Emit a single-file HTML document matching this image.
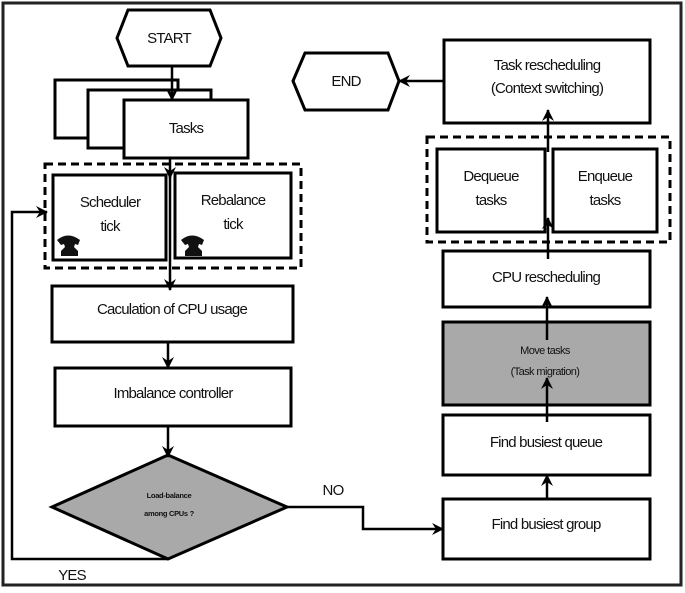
<!DOCTYPE html>
<html><head><style>
html,body{margin:0;padding:0;background:#fff;}
svg text{font-family:"Liberation Sans",sans-serif;fill:#111;}
</style></head><body>
<svg width="685" height="588" viewBox="0 0 685 588" xmlns="http://www.w3.org/2000/svg">
<defs>
<marker id="a" markerWidth="12" markerHeight="12" refX="11" refY="6" orient="auto" markerUnits="userSpaceOnUse">
<path d="M0,0 L12,6 L0,12 L4,6 Z" fill="#000"/>
</marker>
</defs>
<rect x="3" y="3" width="678" height="582" fill="none" stroke="#222" stroke-width="3"/>
<g stroke="#000" stroke-width="3" fill="#fff">
<polygon points="117,38 128,10 210,10 221,38 210,66 128,66"/>
<rect x="55" y="80" width="123" height="58"/>
<rect x="88" y="90" width="123" height="58"/>
<rect x="124" y="100" width="124" height="58"/>
<rect x="45" y="164" width="256" height="104" fill="none" stroke-dasharray="8,5"/>
<rect x="53" y="175" width="113" height="85"/>
<rect x="175" y="173" width="116" height="85"/>
<rect x="52" y="286" width="241" height="56"/>
<rect x="55" y="368" width="236" height="58"/>
<polygon points="52,507 168,455 287,507 168,559" fill="#a9a9a9"/>
<polygon points="293,81 305,53 388,53 399,81 388,110 305,110"/>
<rect x="444" y="40" width="206" height="83"/>
<rect x="427" y="137" width="243" height="105" fill="none" stroke-dasharray="8,5"/>
<rect x="437" y="149" width="108" height="83"/>
<rect x="553" y="149" width="104" height="83"/>
<rect x="443" y="251" width="207" height="56"/>
<rect x="443" y="322" width="207" height="83" fill="#a9a9a9"/>
<rect x="443" y="415" width="207" height="60"/>
<rect x="443" y="499" width="207" height="60"/>
</g>
<g stroke="#000" stroke-width="2.5" fill="none">
<line x1="172" y1="66" x2="172" y2="100" marker-end="url(#a)"/>
<line x1="170" y1="158" x2="170" y2="178" marker-end="url(#a)"/>
<line x1="170" y1="175" x2="170" y2="290" marker-end="url(#a)"/>
<line x1="168" y1="342" x2="168" y2="368" marker-end="url(#a)"/>
<line x1="168" y1="426" x2="168" y2="457" marker-end="url(#a)"/>
<polyline points="168,559 12,559 12,212 47,212" marker-end="url(#a)"/>
<polyline points="287,507 363,507 363,529 443,529" marker-end="url(#a)"/>
<line x1="547" y1="499" x2="547" y2="475" marker-end="url(#a)"/>
<line x1="547" y1="422" x2="547" y2="378" marker-end="url(#a)"/>
<line x1="547" y1="340" x2="547" y2="297" marker-end="url(#a)"/>
<line x1="548" y1="259" x2="548" y2="218" marker-end="url(#a)"/>
<line x1="548" y1="152" x2="548" y2="110" marker-end="url(#a)"/>
<line x1="444" y1="81" x2="399" y2="81" marker-end="url(#a)"/>
</g>
<g fill="#111">
<path d="M57,240 q11,-9 23,0 l-2,5 l-3,-1 l-1,3 l4,4 v5 h-17 v-5 l4,-4 l-1,-3 l-3,1 z"/>
<path d="M181,240 q11,-9 23,0 l-2,5 l-3,-1 l-1,3 l4,4 v5 h-17 v-5 l4,-4 l-1,-3 l-3,1 z"/>
</g>
<g font-size="15" text-anchor="middle" letter-spacing="-0.8">
<text x="169" y="43">START</text>
<text x="186" y="133">Tasks</text>
<text x="110" y="207">Scheduler</text>
<text x="110" y="231">tick</text>
<text x="233" y="205">Rebalance</text>
<text x="233" y="229">tick</text>
<text x="172" y="314">Caculation of CPU usage</text>
<text x="173" y="398">Imbalance controller</text>
<text x="346" y="86">END</text>
<text x="547" y="70">Task rescheduling</text>
<text x="547" y="93">(Context switching)</text>
<text x="491" y="181">Dequeue</text>
<text x="491" y="205">tasks</text>
<text x="605" y="181">Enqueue</text>
<text x="605" y="205">tasks</text>
<text x="546" y="282">CPU rescheduling</text>
<text x="546" y="447">Find busiest queue</text>
<text x="546" y="529">Find busiest group</text>
<text x="333" y="495">NO</text>
<text x="72" y="580">YES</text>
</g>
<g font-size="11" text-anchor="middle" letter-spacing="-0.6">
<text x="545" y="354">Move tasks</text>
<text x="545" y="375">(Task migration)</text>
</g>
<g font-size="7.5" text-anchor="middle" font-weight="bold" letter-spacing="-0.3">
<text x="169" y="498">Load-balance</text>
<text x="169" y="516">among CPUs ?</text>
</g>
</svg>
</body></html>
